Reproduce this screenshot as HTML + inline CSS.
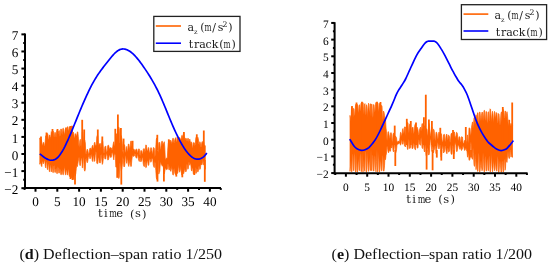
<!DOCTYPE html>
<html><head><meta charset="utf-8"><style>
html,body{margin:0;padding:0;background:#fff;width:550px;height:266px;overflow:hidden}
svg{display:block}
</style></head><body>
<svg width="550" height="266" viewBox="0 0 550 266">
<rect width="550" height="266" fill="#fff"/>
<path d="M39.80,137.9 40.30,139.4 40.80,140.9 41.30,139.6 41.80,142.3 42.30,145.5 42.80,144.7 43.30,142.5 43.80,142.5 44.30,145.5 44.80,146.2 45.30,140.3 45.80,135.7 46.30,137.9 46.80,137.2 47.30,133.4 47.80,133.9 48.30,138.4 48.80,140.1 49.30,135.1 49.80,135.1 50.30,138.4 50.80,136.5 51.30,131.6 51.80,132.4 52.30,134.9 52.80,131.0 53.30,131.3 53.80,136.6 54.30,137.1 54.80,132.5 55.30,132.5 55.80,136.5 56.30,136.9 56.80,130.6 57.30,130.4 57.80,134.4 58.30,133.7 58.80,130.9 59.30,130.6 59.80,136.6 60.30,135.2 60.80,129.0 61.30,129.0 61.80,133.0 62.30,135.2 62.80,128.6 63.30,128.2 63.80,130.7 64.30,134.4 64.80,133.2 65.30,129.0 65.80,129.0 66.30,135.4 66.80,133.2 67.30,127.0 67.80,126.6 68.30,130.3 68.80,130.6 69.30,126.8 69.80,126.8 70.30,133.0 70.80,130.6 71.30,127.0 71.80,129.0 72.30,135.3 72.80,134.2 73.30,132.1 73.80,133.9 74.30,138.2 74.80,137.3 75.30,133.8 75.80,133.8 76.30,135.8 76.80,135.8 77.30,131.9 77.80,131.9 78.30,136.7 78.80,145.0 79.30,147.6 79.80,140.8 80.30,139.3 80.80,144.9 81.30,149.2 81.80,144.2 82.30,132.0 82.80,131.9 83.30,139.3 83.80,148.9 84.30,139.7 84.80,140.3 85.30,142.9 85.80,153.5 86.30,153.8 86.80,150.5 87.30,149.1 87.80,150.2 88.30,153.2 88.80,154.4 89.30,152.1 89.80,148.4 90.30,148.0 90.80,149.2 91.30,150.1 91.80,147.9 92.30,145.8 92.80,145.2 93.30,149.1 93.80,147.7 94.30,143.1 94.80,142.2 95.30,144.8 95.80,145.8 96.30,145.1 96.80,137.0 97.30,135.3 97.80,135.5 98.30,144.8 98.80,146.5 99.30,143.6 99.80,144.2 100.30,143.4 100.80,147.5 101.30,146.8 101.80,142.8 102.30,139.7 102.80,141.8 103.30,148.1 103.80,152.7 104.30,153.0 104.80,146.8 105.30,146.3 105.80,146.0 106.30,151.3 106.80,152.5 107.30,149.9 107.80,145.5 108.30,145.1 108.80,145.8 109.30,148.7 109.80,148.5 110.30,147.4 110.80,147.9 111.30,147.9 111.80,149.8 112.30,149.4 112.80,146.4 113.30,143.6 113.80,141.7 114.30,145.2 114.80,146.3 115.30,145.3 115.80,135.2 116.30,133.6 116.80,135.8 117.30,145.0 117.80,141.6 118.30,127.0 118.80,127.0 119.30,128.9 119.80,142.8 120.30,144.3 120.80,138.8 121.30,135.6 121.80,138.6 122.30,143.3 122.80,150.9 123.30,153.9 123.80,146.1 124.30,144.6 124.80,145.9 125.30,153.1 125.80,152.1 126.30,147.4 126.80,146.4 127.30,150.9 127.80,151.3 128.30,144.1 128.80,144.0 129.30,147.0 129.80,150.6 130.30,144.9 130.80,141.1 131.30,141.1 131.80,145.6 132.30,148.5 132.80,150.7 133.30,148.8 133.80,149.7 134.30,149.5 134.80,151.3 135.30,151.5 135.80,149.5 136.30,149.2 136.80,149.0 137.30,152.7 137.80,152.2 138.30,149.9 138.80,148.8 139.30,149.0 139.80,154.5 140.30,156.0 140.80,150.6 141.30,150.6 141.80,151.0 142.30,153.9 142.80,153.9 143.30,149.3 143.80,148.6 144.30,148.8 144.80,152.8 145.30,150.5 145.80,144.9 146.30,145.1 146.80,148.2 147.30,151.0 147.80,151.1 148.30,147.6 148.80,147.7 149.30,152.1 149.80,152.9 150.30,151.1 150.80,147.7 151.30,147.8 151.80,150.4 152.30,152.9 152.80,153.4 153.30,147.7 153.80,147.5 154.30,148.3 154.80,156.7 155.30,155.0 155.80,147.2 156.30,139.6 156.80,137.9 157.30,143.9 157.80,150.7 158.30,152.5 158.80,142.6 159.30,142.6 159.80,142.3 160.30,149.9 160.80,148.6 161.30,144.0 161.80,141.3 162.30,141.2 162.80,144.2 163.30,144.3 163.80,142.8 164.30,141.7 164.80,147.4 165.30,159.3 165.80,159.3 166.30,158.2 166.80,158.0 167.30,158.2 167.80,149.0 168.30,143.5 168.80,140.7 169.30,140.2 169.80,143.7 170.30,140.9 170.80,140.1 171.30,141.8 171.80,144.2 172.30,141.3 172.80,138.3 173.30,138.3 173.80,142.2 174.30,142.7 174.80,139.6 175.30,138.3 175.80,137.6 176.30,142.0 176.80,141.6 177.30,136.4 177.80,136.8 178.30,140.0 178.80,141.0 179.30,137.6 179.80,137.7 180.30,138.9 180.80,140.4 181.30,138.1 181.80,135.4 182.30,135.6 182.80,139.0 183.30,133.8 183.80,132.9 184.30,136.3 184.80,140.1 185.30,139.2 185.80,138.1 186.30,138.5 186.80,141.0 187.30,140.9 187.80,138.3 188.30,138.4 188.80,142.0 189.30,140.5 189.80,139.1 190.30,141.5 190.80,143.9 191.30,141.8 191.80,142.8 192.30,147.2 192.80,147.6 193.30,142.8 193.80,142.5 194.30,142.8 194.80,146.2 195.30,144.3 195.80,138.3 196.30,136.9 196.80,139.1 197.30,139.0 197.80,137.2 198.30,138.7 198.80,144.0 199.30,144.8 199.80,141.7 200.30,142.7 200.80,147.3 201.30,146.5 201.80,142.4 202.30,141.5 202.80,142.9 203.30,141.6 203.80,142.5 204.30,146.5 204.80,145.3 205.30,145.9 205.30,169.3 204.80,168.6 204.30,163.7 203.80,165.1 203.30,162.4 202.80,158.8 202.30,163.7 201.80,165.0 201.30,163.4 200.80,165.0 200.30,168.8 199.80,169.5 199.30,166.5 198.80,166.5 198.30,171.0 197.80,172.1 197.30,169.4 196.80,168.4 196.30,173.2 195.80,173.4 195.30,167.4 194.80,168.3 194.30,173.3 193.80,174.2 193.30,173.5 192.80,168.2 192.30,167.8 191.80,171.1 191.30,169.7 190.80,163.9 190.30,163.4 189.80,165.3 189.30,162.8 188.80,162.0 188.30,168.5 187.80,169.3 187.30,165.0 186.80,164.3 186.30,171.0 185.80,171.9 185.30,170.4 184.80,168.3 184.30,170.7 183.80,173.6 183.30,173.7 182.80,169.6 182.30,174.2 181.80,175.1 181.30,170.4 180.80,166.2 180.30,170.0 179.80,172.3 179.30,171.2 178.80,165.3 178.30,168.1 177.80,173.0 177.30,173.6 176.80,168.2 176.30,168.4 175.80,174.7 175.30,174.5 174.80,173.0 174.30,168.2 173.80,169.8 173.30,175.1 172.80,174.7 172.30,170.3 171.80,166.3 171.30,169.3 170.80,171.4 170.30,169.9 169.80,165.4 169.30,170.1 168.80,169.2 168.30,164.7 167.80,164.3 167.30,169.3 166.80,169.6 166.30,169.5 165.80,168.3 165.30,168.6 164.80,171.3 164.30,173.9 163.80,172.3 163.30,166.5 162.80,164.8 162.30,166.3 161.80,165.2 161.30,164.6 160.80,162.4 160.30,162.8 159.80,171.1 159.30,172.5 158.80,174.1 158.30,160.4 157.80,160.7 157.30,170.6 156.80,179.4 156.30,177.4 155.80,170.4 155.30,163.3 154.80,161.5 154.30,167.6 153.80,166.8 153.30,165.0 152.80,159.6 152.30,157.7 151.80,158.8 151.30,161.4 150.80,162.3 150.30,159.5 149.80,158.4 149.30,160.0 148.80,165.1 148.30,165.5 147.80,161.7 147.30,160.0 146.80,163.5 146.30,167.3 145.80,167.7 145.30,160.7 144.80,162.5 144.30,166.7 143.80,166.0 143.30,164.1 142.80,158.5 142.30,156.7 141.80,160.3 141.30,161.3 140.80,161.9 140.30,158.2 139.80,158.1 139.30,161.5 138.80,160.6 138.30,158.3 137.80,154.6 137.30,154.8 136.80,158.2 136.30,157.9 135.80,157.2 135.30,154.3 134.80,153.4 134.30,156.0 133.80,155.8 133.30,156.6 132.80,155.0 132.30,156.3 131.80,160.2 131.30,166.3 130.80,166.5 130.30,162.9 129.80,159.6 129.30,163.8 128.80,166.5 128.30,165.1 127.80,157.6 127.30,160.3 126.80,163.4 126.30,161.4 125.80,155.7 125.30,155.9 124.80,164.9 124.30,167.0 123.80,166.4 123.30,159.8 122.80,156.6 122.30,164.3 121.80,168.6 121.30,170.5 120.80,166.3 120.30,159.8 119.80,164.3 119.30,177.3 118.80,178.5 118.30,177.9 117.80,164.7 117.30,162.4 116.80,167.0 116.30,167.3 115.80,167.1 115.30,155.2 114.80,153.4 114.30,154.9 113.80,159.9 113.30,157.0 112.80,153.9 112.30,152.0 111.80,153.4 111.30,157.1 110.80,157.6 110.30,157.1 109.80,155.0 109.30,155.1 108.80,158.3 108.30,159.8 107.80,160.1 107.30,156.3 106.80,154.3 106.30,153.6 105.80,158.9 105.30,158.9 104.80,158.8 104.30,154.4 103.80,155.6 103.30,158.7 102.80,163.1 102.30,164.4 101.80,160.2 101.30,154.5 100.80,155.2 100.30,163.1 99.80,162.6 99.30,162.6 98.80,158.1 98.30,157.0 97.80,163.6 97.30,163.6 96.80,163.3 96.30,152.7 95.80,151.4 95.30,155.1 94.80,161.1 94.30,161.4 93.80,156.2 93.30,155.6 92.80,161.6 92.30,160.8 91.80,157.3 91.30,153.8 90.80,155.5 90.30,158.7 89.80,158.6 89.30,155.4 88.80,155.6 88.30,157.4 87.80,161.1 87.30,162.8 86.80,161.6 86.30,158.3 85.80,158.9 85.30,169.6 84.80,171.2 84.30,170.0 83.80,156.8 83.30,158.8 82.80,168.1 82.30,167.5 81.80,158.4 81.30,157.9 80.80,161.3 80.30,165.7 79.80,165.2 79.30,157.8 78.80,157.7 78.30,161.1 77.80,164.1 77.30,166.6 76.80,165.4 76.30,168.4 75.80,173.4 75.30,175.7 74.80,172.0 74.30,173.2 73.80,179.0 73.30,179.5 72.80,174.3 72.30,169.1 71.80,175.7 71.30,178.1 70.80,174.5 70.30,171.2 69.80,176.5 69.30,176.3 68.80,170.6 68.30,169.6 67.80,175.0 67.30,174.8 66.80,170.2 66.30,169.9 65.80,174.8 65.30,174.7 64.80,169.0 64.30,166.5 63.80,171.4 63.30,174.8 62.80,174.5 62.30,169.3 61.80,171.7 61.30,174.7 60.80,174.6 60.30,169.9 59.80,168.5 59.30,173.1 58.80,173.1 58.30,168.3 57.80,166.5 57.30,173.6 56.80,173.5 56.30,168.6 55.80,169.1 55.30,172.5 54.80,172.3 54.30,165.4 53.80,166.0 53.30,172.6 52.80,172.4 52.30,164.8 51.80,168.4 51.30,171.9 50.80,165.6 50.30,165.5 49.80,171.7 49.30,171.5 48.80,164.5 48.30,164.2 47.80,169.7 47.30,169.3 46.80,161.9 46.30,161.9 45.80,167.9 45.30,166.3 44.80,161.0 44.30,159.8 43.80,162.7 43.30,163.8 42.80,160.9 42.30,161.8 41.80,166.6 41.30,166.1 40.80,162.4 40.30,162.9 39.80,164.3Z" fill="#ff6200" stroke="#ff6200" stroke-width="0.7" stroke-linejoin="bevel"/>
<g stroke="#ff6200" stroke-width="1.8"><line x1="41.0" y1="150.0" x2="41.0" y2="136.5"/><line x1="46.5" y1="150.0" x2="46.5" y2="132.5"/><line x1="52.5" y1="150.0" x2="52.5" y2="129.0"/><line x1="57.5" y1="150.0" x2="57.5" y2="129.0"/><line x1="66.0" y1="150.0" x2="66.0" y2="127.5"/><line x1="70.5" y1="150.0" x2="70.5" y2="126.0"/><line x1="72.0" y1="150.0" x2="72.0" y2="125.8"/><line x1="82.2" y1="150.0" x2="82.2" y2="119.8"/><line x1="84.2" y1="150.0" x2="84.2" y2="129.5"/><line x1="97.8" y1="150.0" x2="97.8" y2="129.5"/><line x1="102.3" y1="150.0" x2="102.3" y2="136.5"/><line x1="115.3" y1="150.0" x2="115.3" y2="128.8"/><line x1="117.9" y1="150.0" x2="117.9" y2="114.5"/><line x1="120.9" y1="150.0" x2="120.9" y2="128.0"/><line x1="123.6" y1="150.0" x2="123.6" y2="138.6"/><line x1="132.6" y1="150.0" x2="132.6" y2="140.8"/><line x1="157.3" y1="150.0" x2="157.3" y2="134.8"/><line x1="168.8" y1="150.0" x2="168.8" y2="139.3"/><line x1="183.9" y1="150.0" x2="183.9" y2="132.0"/><line x1="196.8" y1="150.0" x2="196.8" y2="134.3"/><line x1="203.8" y1="150.0" x2="203.8" y2="130.5"/><line x1="75.0" y1="165.0" x2="75.0" y2="184.6"/><line x1="117.2" y1="160.0" x2="117.2" y2="177.8"/><line x1="121.3" y1="160.0" x2="121.3" y2="184.6"/><line x1="157.5" y1="160.0" x2="157.5" y2="181.6"/><line x1="163.9" y1="160.0" x2="163.9" y2="181.6"/><line x1="176.3" y1="165.0" x2="176.3" y2="176.6"/><line x1="182.3" y1="165.0" x2="182.3" y2="177.3"/><line x1="194.3" y1="165.0" x2="194.3" y2="175.0"/><line x1="204.8" y1="160.0" x2="204.8" y2="181.8"/><line x1="70.5" y1="165.0" x2="70.5" y2="179.0"/><line x1="72.5" y1="165.0" x2="72.5" y2="180.0"/></g>
<path d="M39.80,153.78 40.80,154.62 41.80,155.45 42.80,156.24 43.80,156.99 44.80,157.69 45.80,158.33 46.80,158.89 47.80,159.37 48.80,159.76 49.80,160.05 50.80,160.22 51.80,160.26 52.80,160.17 53.80,159.94 54.80,159.55 55.80,158.99 56.80,158.26 57.80,157.34 58.80,156.25 59.80,154.99 60.80,153.58 61.80,152.03 62.80,150.34 63.80,148.54 64.80,146.62 65.80,144.59 66.80,142.48 67.80,140.28 68.80,138.02 69.80,135.69 70.80,133.32 71.80,130.90 72.80,128.46 73.80,126.00 74.80,123.53 75.80,121.06 76.80,118.60 77.80,116.15 78.80,113.71 79.80,111.29 80.80,108.90 81.80,106.53 82.80,104.18 83.80,101.87 84.80,99.60 85.80,97.36 86.80,95.17 87.80,93.03 88.80,90.93 89.80,88.89 90.80,86.90 91.80,84.98 92.80,83.12 93.80,81.33 94.80,79.61 95.80,77.96 96.80,76.37 97.80,74.84 98.80,73.37 99.80,71.94 100.80,70.55 101.80,69.20 102.80,67.88 103.80,66.58 104.80,65.30 105.80,64.03 106.80,62.77 107.80,61.51 108.80,60.24 109.80,58.99 110.80,57.75 111.80,56.54 112.80,55.38 113.80,54.27 114.80,53.24 115.80,52.30 116.80,51.45 117.80,50.72 118.80,50.11 119.80,49.63 120.80,49.29 121.80,49.07 122.80,48.97 123.80,48.98 124.80,49.11 125.80,49.35 126.80,49.69 127.80,50.13 128.80,50.67 129.80,51.29 130.80,52.01 131.80,52.81 132.80,53.69 133.80,54.64 134.80,55.66 135.80,56.74 136.80,57.89 137.80,59.09 138.80,60.34 139.80,61.63 140.80,62.97 141.80,64.35 142.80,65.75 143.80,67.18 144.80,68.64 145.80,70.12 146.80,71.62 147.80,73.15 148.80,74.71 149.80,76.31 150.80,77.94 151.80,79.62 152.80,81.34 153.80,83.11 154.80,84.93 155.80,86.81 156.80,88.74 157.80,90.74 158.80,92.80 159.80,94.93 160.80,97.13 161.80,99.40 162.80,101.72 163.80,104.10 164.80,106.50 165.80,108.94 166.80,111.39 167.80,113.84 168.80,116.29 169.80,118.73 170.80,121.13 171.80,123.50 172.80,125.83 173.80,128.11 174.80,130.34 175.80,132.51 176.80,134.63 177.80,136.68 178.80,138.67 179.80,140.59 180.80,142.44 181.80,144.21 182.80,145.90 183.80,147.51 184.80,149.03 185.80,150.46 186.80,151.80 187.80,153.04 188.80,154.18 189.80,155.21 190.80,156.13 191.80,156.94 192.80,157.63 193.80,158.20 194.80,158.65 195.80,158.98 196.80,159.17 197.80,159.22 198.80,159.14 199.80,158.92 200.80,158.55 201.80,158.03 202.80,157.36 203.80,156.54 204.80,155.55 205.80,154.40 206.80,153.08" fill="none" stroke="#0000ff" stroke-width="1.7" stroke-linejoin="round"/>
<g stroke="#000" fill="none" stroke-width="2.0">
<line x1="25.0" y1="33.6" x2="25.0" y2="189.1"/>
<line x1="24.0" y1="188.1" x2="221.0" y2="188.1"/>
<line x1="21.4" y1="188.18" x2="25.0" y2="188.18"/>
<line x1="23.2" y1="179.63" x2="25.0" y2="179.63"/>
<line x1="21.4" y1="171.09" x2="25.0" y2="171.09"/>
<line x1="23.2" y1="162.54" x2="25.0" y2="162.54"/>
<line x1="21.4" y1="154.00" x2="25.0" y2="154.00"/>
<line x1="23.2" y1="145.46" x2="25.0" y2="145.46"/>
<line x1="21.4" y1="136.91" x2="25.0" y2="136.91"/>
<line x1="23.2" y1="128.37" x2="25.0" y2="128.37"/>
<line x1="21.4" y1="119.82" x2="25.0" y2="119.82"/>
<line x1="23.2" y1="111.28" x2="25.0" y2="111.28"/>
<line x1="21.4" y1="102.73" x2="25.0" y2="102.73"/>
<line x1="23.2" y1="94.19" x2="25.0" y2="94.19"/>
<line x1="21.4" y1="85.64" x2="25.0" y2="85.64"/>
<line x1="23.2" y1="77.09" x2="25.0" y2="77.09"/>
<line x1="21.4" y1="68.55" x2="25.0" y2="68.55"/>
<line x1="23.2" y1="60.00" x2="25.0" y2="60.00"/>
<line x1="21.4" y1="51.46" x2="25.0" y2="51.46"/>
<line x1="23.2" y1="42.92" x2="25.0" y2="42.92"/>
<line x1="21.4" y1="34.37" x2="25.0" y2="34.37"/>
<line x1="24.60" y1="188.1" x2="24.60" y2="189.9"/>
<line x1="35.50" y1="188.1" x2="35.50" y2="191.7"/>
<line x1="46.40" y1="188.1" x2="46.40" y2="189.9"/>
<line x1="57.30" y1="188.1" x2="57.30" y2="191.7"/>
<line x1="68.20" y1="188.1" x2="68.20" y2="189.9"/>
<line x1="79.10" y1="188.1" x2="79.10" y2="191.7"/>
<line x1="90.00" y1="188.1" x2="90.00" y2="189.9"/>
<line x1="100.90" y1="188.1" x2="100.90" y2="191.7"/>
<line x1="111.80" y1="188.1" x2="111.80" y2="189.9"/>
<line x1="122.70" y1="188.1" x2="122.70" y2="191.7"/>
<line x1="133.60" y1="188.1" x2="133.60" y2="189.9"/>
<line x1="144.50" y1="188.1" x2="144.50" y2="191.7"/>
<line x1="155.40" y1="188.1" x2="155.40" y2="189.9"/>
<line x1="166.30" y1="188.1" x2="166.30" y2="191.7"/>
<line x1="177.20" y1="188.1" x2="177.20" y2="189.9"/>
<line x1="188.10" y1="188.1" x2="188.10" y2="191.7"/>
<line x1="199.00" y1="188.1" x2="199.00" y2="189.9"/>
<line x1="209.90" y1="188.1" x2="209.90" y2="191.7"/>
<line x1="220.80" y1="188.1" x2="220.80" y2="189.9"/>
</g>
<g font-family="Liberation Serif, serif" font-size="13.2" fill="#000" text-rendering="geometricPrecision">
<text x="18.4" y="193.7" text-anchor="end">−2</text>
<text x="18.4" y="176.6" text-anchor="end">−1</text>
<text x="18.4" y="159.6" text-anchor="end">0</text>
<text x="18.4" y="142.5" text-anchor="end">1</text>
<text x="18.4" y="125.4" text-anchor="end">2</text>
<text x="18.4" y="108.3" text-anchor="end">3</text>
<text x="18.4" y="91.2" text-anchor="end">4</text>
<text x="18.4" y="74.1" text-anchor="end">5</text>
<text x="18.4" y="57.0" text-anchor="end">6</text>
<text x="18.4" y="39.9" text-anchor="end">7</text>
<text x="35.50" y="206.0" text-anchor="middle">0</text>
<text x="57.30" y="206.0" text-anchor="middle">5</text>
<text x="79.10" y="206.0" text-anchor="middle">10</text>
<text x="100.90" y="206.0" text-anchor="middle">15</text>
<text x="122.70" y="206.0" text-anchor="middle">20</text>
<text x="144.50" y="206.0" text-anchor="middle">25</text>
<text x="166.30" y="206.0" text-anchor="middle">30</text>
<text x="188.10" y="206.0" text-anchor="middle">35</text>
<text x="209.90" y="206.0" text-anchor="middle">40</text>
</g>
<rect x="153.8" y="16.4" width="86.2" height="35.0" fill="#fff" stroke="#222" stroke-width="1.3"/>
<line x1="155.8" y1="26.0" x2="181.0" y2="26.0" stroke="#ff6200" stroke-width="1.6"/>
<line x1="155.8" y1="43.2" x2="181.0" y2="43.2" stroke="#0000ff" stroke-width="1.6"/>
<text text-anchor="middle" font-family="DejaVu Serif, serif" font-size="11.0" fill="#1a1a1a"><tspan x="190.90" y="30.60">a</tspan><tspan x="195.60" y="33.80" font-size="6.5">z</tspan><tspan x="202.30" y="31.00">(</tspan><tspan x="208.00" y="30.60" textLength="7.00" lengthAdjust="spacingAndGlyphs">m</tspan><tspan x="214.10" y="31.00">/</tspan><tspan x="220.60" y="30.60">s</tspan><tspan x="225.00" y="26.90" font-size="7.8">2</tspan><tspan x="230.30" y="31.00">)</tspan></text>
<text text-anchor="middle" font-family="DejaVu Serif, serif" font-size="11.0" fill="#1a1a1a"><tspan x="190.90" y="47.50">t</tspan><tspan x="196.60" y="47.50">r</tspan><tspan x="202.60" y="47.50">a</tspan><tspan x="208.60" y="47.50">c</tspan><tspan x="215.00" y="47.50">k</tspan><tspan x="221.30" y="48.10">(</tspan><tspan x="227.00" y="47.50" textLength="7.00" lengthAdjust="spacingAndGlyphs">m</tspan><tspan x="233.60" y="48.10">)</tspan></text>
<text text-anchor="middle" font-family="DejaVu Serif, serif" font-size="11.5" fill="#1a1a1a"><tspan x="100.30" y="217.00">t</tspan><tspan x="105.75" y="217.00">i</tspan><tspan x="113.15" y="217.00" textLength="7.60" lengthAdjust="spacingAndGlyphs">m</tspan><tspan x="119.55" y="217.00">e</tspan><tspan x="126.00" y="217.00"> </tspan><tspan x="132.30" y="217.60">(</tspan><tspan x="137.95" y="217.00">s</tspan><tspan x="144.35" y="217.60">)</tspan></text>
<path d="M350.00,115.4 350.50,118.1 351.00,121.2 351.50,107.8 352.00,107.1 352.50,118.2 353.00,117.8 353.50,108.4 354.00,108.7 354.50,116.3 355.00,114.6 355.50,105.5 356.00,104.2 356.50,115.4 357.00,105.1 357.50,104.5 358.00,111.0 358.50,113.2 359.00,105.2 359.50,104.8 360.00,110.2 360.50,110.5 361.00,103.1 361.50,102.7 362.00,116.3 362.50,107.9 363.00,102.7 363.50,109.6 364.00,114.6 364.50,104.5 365.00,103.6 365.50,113.9 366.00,115.1 366.50,104.7 367.00,106.9 367.50,118.0 368.00,108.6 368.50,103.2 369.00,109.7 369.50,113.6 370.00,103.8 370.50,103.9 371.00,116.9 371.50,104.3 372.00,104.1 372.50,115.9 373.00,117.5 373.50,104.7 374.00,104.6 374.50,111.2 375.00,111.2 375.50,104.7 376.00,102.4 376.50,106.5 377.00,111.8 377.50,103.0 378.00,103.0 378.50,112.2 379.00,108.8 379.50,103.4 380.00,105.2 380.50,112.5 381.00,110.4 381.50,105.4 382.00,105.8 382.50,118.1 383.00,119.4 383.50,111.1 384.00,112.2 384.50,115.4 385.00,120.7 385.50,118.5 386.00,128.1 386.50,131.7 387.00,140.8 387.50,137.2 388.00,131.7 388.50,131.8 389.00,134.4 389.50,137.6 390.00,138.4 390.50,133.1 391.00,132.6 391.50,133.8 392.00,141.1 392.50,142.4 393.00,134.5 393.50,132.9 394.00,134.7 394.50,137.8 395.00,142.2 395.50,135.9 396.00,137.3 396.50,137.6 397.00,141.9 397.50,142.2 398.00,141.1 398.50,141.1 399.00,141.8 399.50,141.9 400.00,137.3 400.50,132.3 401.00,132.7 401.50,136.9 402.00,134.4 402.50,129.5 403.00,128.5 403.50,133.3 404.00,133.0 404.50,126.9 405.00,126.9 405.50,127.0 406.00,136.2 406.50,134.7 407.00,127.3 407.50,122.4 408.00,122.8 408.50,131.0 409.00,133.0 409.50,124.4 410.00,123.8 410.50,124.4 411.00,132.6 411.50,134.2 412.00,127.9 412.50,127.4 413.00,127.0 413.50,134.3 414.00,132.7 414.50,127.4 415.00,124.3 415.50,124.0 416.00,129.3 416.50,129.6 417.00,127.1 417.50,128.2 418.00,130.0 418.50,134.4 419.00,134.9 419.50,129.9 420.00,128.2 420.50,127.1 421.00,131.2 421.50,129.0 422.00,123.5 422.50,123.8 423.00,129.7 423.50,130.8 424.00,125.5 424.50,126.0 425.00,138.7 425.50,141.5 426.00,129.2 426.50,128.8 427.00,129.2 427.50,136.3 428.00,134.0 428.50,125.5 429.00,123.4 429.50,125.5 430.00,135.5 430.50,135.4 431.00,131.7 431.50,128.9 432.00,127.1 432.50,140.5 433.00,140.9 433.50,129.2 434.00,129.6 434.50,133.7 435.00,139.7 435.50,140.5 436.00,132.2 436.50,132.2 437.00,133.7 437.50,139.1 438.00,139.0 438.50,134.1 439.00,132.0 439.50,133.3 440.00,136.0 440.50,137.5 441.00,133.5 441.50,134.2 442.00,139.8 442.50,142.3 443.00,141.4 443.50,134.7 444.00,134.7 444.50,134.3 445.00,141.0 445.50,141.5 446.00,136.2 446.50,134.1 447.00,134.6 447.50,139.7 448.00,139.5 448.50,135.1 449.00,135.4 449.50,137.0 450.00,142.6 450.50,141.3 451.00,133.9 451.50,133.3 452.00,133.0 452.50,139.0 453.00,138.7 453.50,132.0 454.00,132.1 454.50,132.1 455.00,137.6 455.50,137.2 456.00,136.0 456.50,132.3 457.00,132.6 457.50,134.4 458.00,140.1 458.50,141.0 459.00,136.8 459.50,136.7 460.00,137.4 460.50,142.3 461.00,141.6 461.50,136.7 462.00,136.9 462.50,137.1 463.00,142.6 463.50,144.1 464.00,142.8 464.50,140.6 465.00,140.6 465.50,143.0 466.00,144.8 466.50,141.8 467.00,140.8 467.50,134.9 468.00,142.2 468.50,142.0 469.00,127.9 469.50,127.9 470.00,128.7 470.50,135.9 471.00,134.0 471.50,127.4 472.00,124.2 472.50,121.9 473.00,128.4 473.50,124.4 474.00,117.7 474.50,117.4 475.00,124.6 475.50,120.7 476.00,114.7 476.50,116.9 477.00,122.0 477.50,112.9 478.00,112.7 478.50,122.6 479.00,122.4 479.50,112.1 480.00,112.0 480.50,117.3 481.00,121.0 481.50,115.3 482.00,112.0 482.50,112.6 483.00,121.0 483.50,117.1 484.00,110.5 484.50,110.4 485.00,119.4 485.50,120.8 486.00,111.4 486.50,111.8 487.00,121.2 487.50,124.0 488.00,112.4 488.50,111.7 489.00,120.8 489.50,120.2 490.00,108.8 490.50,109.4 491.00,115.9 491.50,122.4 492.00,114.5 492.50,111.3 493.00,114.5 493.50,123.3 494.00,117.4 494.50,111.4 495.00,112.5 495.50,119.5 496.00,115.8 496.50,112.6 497.00,113.3 497.50,122.7 498.00,122.5 498.50,113.6 499.00,114.0 499.50,120.8 500.00,125.8 500.50,119.9 501.00,113.1 501.50,111.8 502.00,122.3 502.50,119.4 503.00,109.3 503.50,110.2 504.00,118.3 504.50,117.6 505.00,110.9 505.50,111.3 506.00,118.0 506.50,113.9 507.00,111.7 507.50,115.1 508.00,122.6 508.50,127.3 509.00,124.1 509.50,123.1 510.00,126.0 510.50,126.0 511.00,123.3 511.50,126.8 512.00,124.5 512.50,125.1 512.50,157.2 512.00,157.2 511.50,152.3 511.00,157.1 510.50,150.7 510.00,150.3 509.50,158.2 509.00,158.6 508.50,156.0 508.00,151.0 507.50,155.9 507.00,162.4 506.50,161.1 506.00,156.7 505.50,168.3 505.00,170.3 504.50,158.8 504.00,160.1 503.50,171.9 503.00,171.9 502.50,162.6 502.00,160.8 501.50,172.1 501.00,172.2 500.50,165.8 500.00,160.4 499.50,164.7 499.00,172.2 498.50,172.2 498.00,157.7 497.50,156.6 497.00,170.6 496.50,171.2 496.00,166.0 495.50,159.7 495.00,169.2 494.50,170.7 494.00,164.5 493.50,159.2 493.00,168.4 492.50,171.8 492.00,166.4 491.50,152.6 491.00,162.0 490.50,171.7 490.00,171.7 489.50,156.0 489.00,156.4 488.50,170.6 488.00,170.6 487.50,157.4 487.00,160.9 486.50,170.9 486.00,170.8 485.50,156.3 485.00,157.2 484.50,171.7 484.00,171.7 483.50,159.2 483.00,152.5 482.50,169.2 482.00,170.8 481.50,167.0 481.00,160.4 480.50,165.4 480.00,171.8 479.50,171.8 479.00,153.9 478.50,153.4 478.00,171.2 477.50,171.2 477.00,160.9 476.50,166.5 476.00,169.7 475.50,159.4 475.00,153.3 474.50,166.4 474.00,164.9 473.50,153.4 473.00,147.6 472.50,159.2 472.00,158.8 471.50,152.6 471.00,141.8 470.50,144.4 470.00,159.1 469.50,160.2 469.00,160.2 468.50,152.3 468.00,155.4 467.50,157.2 467.00,151.5 466.50,150.7 466.00,148.3 465.50,148.3 465.00,150.3 464.50,150.3 464.00,147.9 463.50,146.5 463.00,145.6 462.50,148.7 462.00,149.6 461.50,150.5 461.00,147.9 460.50,147.3 460.00,149.4 459.50,148.1 459.00,146.4 458.50,145.0 458.00,145.1 457.50,149.6 457.00,151.7 456.50,151.3 456.00,145.5 455.50,143.0 455.00,142.7 454.50,152.1 454.00,154.3 453.50,154.7 453.00,145.5 452.50,146.6 452.00,154.4 451.50,154.2 451.00,153.8 450.50,144.6 450.00,145.7 449.50,151.1 449.00,151.7 448.50,152.2 448.00,147.9 447.50,148.2 447.00,153.8 446.50,153.1 446.00,150.6 445.50,146.3 445.00,145.8 444.50,151.6 444.00,152.3 443.50,153.0 443.00,145.8 442.50,146.0 442.00,149.7 441.50,156.2 441.00,157.1 440.50,148.7 440.00,142.6 439.50,146.7 439.00,149.0 438.50,147.7 438.00,143.3 437.50,142.5 437.00,147.5 436.50,151.3 436.00,153.5 435.50,146.5 435.00,145.8 434.50,148.8 434.00,150.4 433.50,152.9 433.00,146.5 432.50,147.3 432.00,151.6 431.50,147.9 431.00,143.2 430.50,138.2 430.00,140.4 429.50,152.5 429.00,155.0 428.50,154.8 428.00,148.9 427.50,146.8 427.00,154.7 426.50,156.2 426.00,155.1 425.50,145.0 425.00,145.4 424.50,152.0 424.00,149.9 423.50,142.7 423.00,143.4 422.50,148.6 422.00,147.5 421.50,139.5 421.00,137.2 420.50,145.3 420.00,144.7 419.50,144.0 419.00,139.4 418.50,140.7 418.00,147.7 417.50,148.3 417.00,147.3 416.50,139.4 416.00,139.0 415.50,149.7 415.00,149.5 414.50,147.5 414.00,143.8 413.50,142.8 413.00,148.3 412.50,148.5 412.00,148.6 411.50,140.8 411.00,139.5 410.50,147.4 410.00,148.5 409.50,148.3 409.00,139.3 408.50,141.0 408.00,149.4 407.50,149.3 407.00,145.6 406.50,142.2 406.00,141.1 405.50,146.9 405.00,146.4 404.50,145.9 404.00,140.9 403.50,140.6 403.00,144.4 402.50,144.0 402.00,140.6 401.50,139.7 401.00,143.9 400.50,145.2 400.00,143.8 399.50,142.8 399.00,143.2 398.50,144.0 398.00,144.0 397.50,144.0 397.00,145.1 396.50,150.0 396.00,152.0 395.50,153.5 395.00,145.3 394.50,144.1 394.00,148.9 393.50,151.9 393.00,150.6 392.50,145.3 392.00,145.3 391.50,148.0 391.00,146.5 390.50,151.2 390.00,151.1 389.50,149.6 389.00,151.7 388.50,152.8 388.00,151.2 387.50,147.4 387.00,145.7 386.50,153.0 386.00,155.4 385.50,159.7 385.00,156.4 384.50,165.8 384.00,171.1 383.50,171.0 383.00,156.4 382.50,155.5 382.00,170.7 381.50,170.8 381.00,162.7 380.50,159.1 380.00,169.5 379.50,172.1 379.00,159.8 378.50,151.1 378.00,171.7 377.50,171.7 377.00,149.3 376.50,161.3 376.00,171.9 375.50,167.7 375.00,155.3 374.50,157.8 374.00,171.0 373.50,171.0 373.00,155.5 372.50,156.1 372.00,170.7 371.50,170.5 371.00,148.9 370.50,170.4 370.00,170.5 369.50,156.9 369.00,162.7 368.50,171.4 368.00,162.4 367.50,150.5 367.00,168.8 366.50,172.4 366.00,152.3 365.50,150.8 365.00,171.4 364.50,170.1 364.00,158.7 363.50,164.9 363.00,172.2 362.50,164.9 362.00,152.7 361.50,171.4 361.00,171.4 360.50,152.4 360.00,154.9 359.50,170.5 359.00,170.5 358.50,158.0 358.00,162.7 357.50,172.3 357.00,170.1 356.50,151.1 356.00,172.0 355.50,171.9 355.00,155.4 354.50,151.9 354.00,170.6 353.50,170.6 353.00,154.7 352.50,154.2 352.00,171.6 351.50,171.6 351.00,160.5 350.50,166.6 350.00,171.4Z" fill="#ff6200" stroke="#ff6200" stroke-width="0.7" stroke-linejoin="bevel"/>
<g stroke="#ff6200" stroke-width="1.8"><line x1="352.0" y1="140.0" x2="352.0" y2="106.0"/><line x1="356.5" y1="140.0" x2="356.5" y2="102.5"/><line x1="362.0" y1="140.0" x2="362.0" y2="101.8"/><line x1="377.0" y1="140.0" x2="377.0" y2="101.8"/><line x1="380.5" y1="140.0" x2="380.5" y2="102.0"/><line x1="394.7" y1="145.0" x2="394.7" y2="125.6"/><line x1="406.8" y1="145.0" x2="406.8" y2="118.8"/><line x1="410.8" y1="145.0" x2="410.8" y2="121.0"/><line x1="416.0" y1="145.0" x2="416.0" y2="122.6"/><line x1="423.9" y1="145.0" x2="423.9" y2="117.3"/><line x1="425.8" y1="145.0" x2="425.8" y2="94.7"/><line x1="428.9" y1="145.0" x2="428.9" y2="119.5"/><line x1="431.9" y1="145.0" x2="431.9" y2="121.0"/><line x1="440.3" y1="145.0" x2="440.3" y2="127.8"/><line x1="453.0" y1="145.0" x2="453.0" y2="130.0"/><line x1="465.8" y1="145.0" x2="465.8" y2="127.0"/><line x1="502.8" y1="140.0" x2="502.8" y2="107.0"/><line x1="509.2" y1="140.0" x2="509.2" y2="119.8"/><line x1="512.2" y1="140.0" x2="512.2" y2="102.5"/><line x1="395.3" y1="150.0" x2="395.3" y2="166.0"/><line x1="426.6" y1="150.0" x2="426.6" y2="169.6"/><line x1="432.6" y1="150.0" x2="432.6" y2="170.3"/><line x1="436.8" y1="150.0" x2="436.8" y2="157.6"/><line x1="441.3" y1="150.0" x2="441.3" y2="160.6"/><line x1="453.8" y1="150.0" x2="453.8" y2="159.0"/><line x1="471.0" y1="150.0" x2="471.0" y2="157.6"/></g>
<path d="M349.7,139.1 C350.4,140.2 352.6,144.1 353.8,145.7 C355.0,147.3 355.8,148.0 357.0,148.8 C358.2,149.6 360.0,150.2 361.3,150.4 C362.6,150.6 363.7,150.3 365.0,149.8 C366.3,149.3 367.6,148.7 368.9,147.6 C370.1,146.5 371.3,145.0 372.5,143.5 C373.7,142.0 374.8,140.7 376.1,138.4 C377.5,136.1 378.9,133.2 380.6,129.7 C382.3,126.2 384.4,121.4 386.3,117.3 C388.2,113.2 390.3,108.8 392.0,104.9 C393.7,101.1 395.3,96.8 396.5,94.2 C397.7,91.6 398.1,91.0 399.0,89.5 C399.9,88.0 400.9,86.8 402.0,85.0 C403.1,83.2 404.4,81.4 405.6,79.0 C406.8,76.6 408.1,73.5 409.4,70.7 C410.7,67.9 411.9,65.0 413.2,62.3 C414.5,59.6 415.8,56.9 417.0,54.7 C418.2,52.5 419.4,50.9 420.7,49.1 C421.9,47.3 423.4,45.0 424.5,43.7 C425.6,42.4 426.6,41.9 427.3,41.5 C428.1,41.1 427.9,41.2 429.0,41.2 C430.1,41.2 432.7,41.1 433.8,41.2 C434.9,41.3 434.9,41.4 435.5,41.8 C436.1,42.2 436.5,42.3 437.5,43.5 C438.5,44.7 440.1,47.1 441.3,49.1 C442.6,51.1 443.8,53.4 445.0,55.7 C446.2,58.1 447.5,60.7 448.8,63.2 C450.1,65.7 451.4,68.4 452.6,70.7 C453.9,73.0 455.2,75.5 456.3,77.3 C457.4,79.1 458.1,80.4 459.0,81.6 C459.9,82.8 460.7,83.5 461.5,84.6 C462.3,85.7 463.0,86.5 464.0,88.3 C465.0,90.1 466.3,92.4 467.4,95.2 C468.5,98.0 469.7,101.6 470.8,104.9 C471.9,108.2 473.1,111.8 474.2,115.0 C475.3,118.2 476.3,121.1 477.6,124.1 C478.9,127.1 480.6,130.4 482.1,133.1 C483.6,135.8 485.5,138.4 486.6,140.1 C487.8,141.8 487.8,141.9 489.0,143.0 C490.2,144.1 492.3,145.8 493.6,146.9 C494.9,148.0 495.8,148.7 497.0,149.3 C498.2,149.9 499.8,150.6 501.1,150.6 C502.4,150.6 503.9,150.1 505.0,149.6 C506.1,149.1 506.4,148.9 507.5,147.8 C508.6,146.7 510.6,144.2 511.6,143.0 C512.6,141.8 513.0,141.0 513.3,140.6" fill="none" stroke="#0000ff" stroke-width="1.7" stroke-linejoin="round"/>
<g stroke="#000" fill="none" stroke-width="2.0">
<line x1="334.6" y1="22.2" x2="334.6" y2="174.3"/>
<line x1="333.6" y1="173.3" x2="527.6" y2="173.3"/>
<line x1="331.2" y1="173.06" x2="334.6" y2="173.06"/>
<line x1="332.9" y1="164.72" x2="334.6" y2="164.72"/>
<line x1="331.2" y1="156.38" x2="334.6" y2="156.38"/>
<line x1="332.9" y1="148.04" x2="334.6" y2="148.04"/>
<line x1="331.2" y1="139.70" x2="334.6" y2="139.70"/>
<line x1="332.9" y1="131.36" x2="334.6" y2="131.36"/>
<line x1="331.2" y1="123.02" x2="334.6" y2="123.02"/>
<line x1="332.9" y1="114.68" x2="334.6" y2="114.68"/>
<line x1="331.2" y1="106.34" x2="334.6" y2="106.34"/>
<line x1="332.9" y1="98.00" x2="334.6" y2="98.00"/>
<line x1="331.2" y1="89.66" x2="334.6" y2="89.66"/>
<line x1="332.9" y1="81.32" x2="334.6" y2="81.32"/>
<line x1="331.2" y1="72.98" x2="334.6" y2="72.98"/>
<line x1="332.9" y1="64.64" x2="334.6" y2="64.64"/>
<line x1="331.2" y1="56.30" x2="334.6" y2="56.30"/>
<line x1="332.9" y1="47.96" x2="334.6" y2="47.96"/>
<line x1="331.2" y1="39.62" x2="334.6" y2="39.62"/>
<line x1="332.9" y1="31.28" x2="334.6" y2="31.28"/>
<line x1="331.2" y1="22.94" x2="334.6" y2="22.94"/>
<line x1="335.25" y1="173.3" x2="335.25" y2="175.0"/>
<line x1="345.90" y1="173.3" x2="345.90" y2="176.7"/>
<line x1="356.55" y1="173.3" x2="356.55" y2="175.0"/>
<line x1="367.20" y1="173.3" x2="367.20" y2="176.7"/>
<line x1="377.85" y1="173.3" x2="377.85" y2="175.0"/>
<line x1="388.50" y1="173.3" x2="388.50" y2="176.7"/>
<line x1="399.15" y1="173.3" x2="399.15" y2="175.0"/>
<line x1="409.80" y1="173.3" x2="409.80" y2="176.7"/>
<line x1="420.45" y1="173.3" x2="420.45" y2="175.0"/>
<line x1="431.10" y1="173.3" x2="431.10" y2="176.7"/>
<line x1="441.75" y1="173.3" x2="441.75" y2="175.0"/>
<line x1="452.40" y1="173.3" x2="452.40" y2="176.7"/>
<line x1="463.05" y1="173.3" x2="463.05" y2="175.0"/>
<line x1="473.70" y1="173.3" x2="473.70" y2="176.7"/>
<line x1="484.35" y1="173.3" x2="484.35" y2="175.0"/>
<line x1="495.00" y1="173.3" x2="495.00" y2="176.7"/>
<line x1="505.65" y1="173.3" x2="505.65" y2="175.0"/>
<line x1="516.30" y1="173.3" x2="516.30" y2="176.7"/>
<line x1="526.95" y1="173.3" x2="526.95" y2="175.0"/>
</g>
<g font-family="Liberation Serif, serif" font-size="11.4" fill="#000" text-rendering="geometricPrecision">
<text x="328.6" y="178.0" text-anchor="end">−2</text>
<text x="328.6" y="161.3" text-anchor="end">−1</text>
<text x="328.6" y="144.7" text-anchor="end">0</text>
<text x="328.6" y="128.0" text-anchor="end">1</text>
<text x="328.6" y="111.3" text-anchor="end">2</text>
<text x="328.6" y="94.6" text-anchor="end">3</text>
<text x="328.6" y="77.9" text-anchor="end">4</text>
<text x="328.6" y="61.3" text-anchor="end">5</text>
<text x="328.6" y="44.6" text-anchor="end">6</text>
<text x="328.6" y="27.9" text-anchor="end">7</text>
<text x="345.90" y="191.0" text-anchor="middle">0</text>
<text x="367.20" y="191.0" text-anchor="middle">5</text>
<text x="388.50" y="191.0" text-anchor="middle">10</text>
<text x="409.80" y="191.0" text-anchor="middle">15</text>
<text x="431.10" y="191.0" text-anchor="middle">20</text>
<text x="452.40" y="191.0" text-anchor="middle">25</text>
<text x="473.70" y="191.0" text-anchor="middle">30</text>
<text x="495.00" y="191.0" text-anchor="middle">35</text>
<text x="516.30" y="191.0" text-anchor="middle">40</text>
</g>
<rect x="461.4" y="4.7" width="85.2" height="34.8" fill="#fff" stroke="#222" stroke-width="1.3"/>
<line x1="463.5" y1="14.1" x2="488.3" y2="14.1" stroke="#ff6200" stroke-width="1.6"/>
<line x1="463.5" y1="31.0" x2="488.3" y2="31.0" stroke="#0000ff" stroke-width="1.6"/>
<text text-anchor="middle" font-family="DejaVu Serif, serif" font-size="11.0" fill="#1a1a1a"><tspan x="497.90" y="18.80">a</tspan><tspan x="502.60" y="22.00" font-size="6.5">z</tspan><tspan x="509.30" y="19.20">(</tspan><tspan x="515.00" y="18.80" textLength="7.00" lengthAdjust="spacingAndGlyphs">m</tspan><tspan x="521.10" y="19.20">/</tspan><tspan x="527.60" y="18.80">s</tspan><tspan x="532.00" y="15.10" font-size="7.8">2</tspan><tspan x="537.30" y="19.20">)</tspan></text>
<text text-anchor="middle" font-family="DejaVu Serif, serif" font-size="11.0" fill="#1a1a1a"><tspan x="497.90" y="35.70">t</tspan><tspan x="503.60" y="35.70">r</tspan><tspan x="509.60" y="35.70">a</tspan><tspan x="515.60" y="35.70">c</tspan><tspan x="522.00" y="35.70">k</tspan><tspan x="528.30" y="36.30">(</tspan><tspan x="534.00" y="35.70" textLength="7.00" lengthAdjust="spacingAndGlyphs">m</tspan><tspan x="540.60" y="36.30">)</tspan></text>
<text text-anchor="middle" font-family="DejaVu Serif, serif" font-size="11.5" fill="#1a1a1a"><tspan x="408.60" y="202.50">t</tspan><tspan x="414.05" y="202.50">i</tspan><tspan x="421.45" y="202.50" textLength="7.60" lengthAdjust="spacingAndGlyphs">m</tspan><tspan x="427.85" y="202.50">e</tspan><tspan x="434.30" y="202.50"> </tspan><tspan x="440.60" y="203.10">(</tspan><tspan x="446.25" y="202.50">s</tspan><tspan x="452.65" y="203.10">)</tspan></text>
<g font-family="Liberation Serif, serif" font-size="14.5" fill="#111">
<text x="19.5" y="258.8" textLength="202.5" lengthAdjust="spacingAndGlyphs">(<tspan font-weight="bold">d</tspan>) Deflection–span ratio 1/250</text>
<text x="331.6" y="258.8" textLength="200.5" lengthAdjust="spacingAndGlyphs">(<tspan font-weight="bold">e</tspan>) Deflection–span ratio 1/200</text>
</g>
</svg>
</body></html>
